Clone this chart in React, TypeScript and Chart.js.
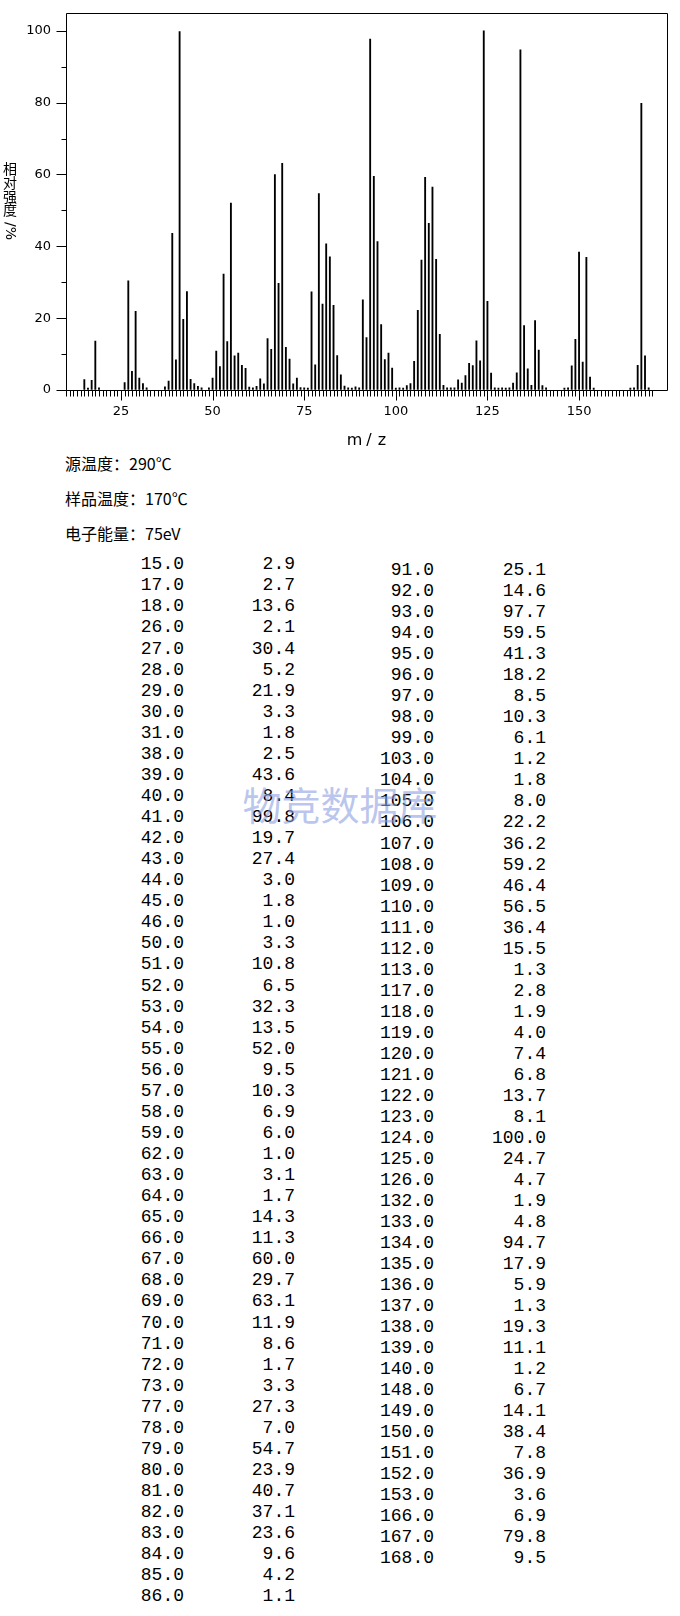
import React, { useEffect, useRef } from 'react';
import { Chart, registerables } from 'chart.js';

Chart.register(...registerables);

// Listed peaks (m/z and relative intensity %)
const leftMz = [15, 17, 18, 26, 27, 28, 29, 30, 31, 38, 39, 40, 41, 42, 43, 44, 45, 46, 50, 51, 52, 53, 54, 55, 56, 57, 58, 59, 62, 63, 64, 65, 66, 67, 68, 69, 70, 71, 72, 73, 77, 78, 79, 80, 81, 82, 83, 84, 85, 86];
const leftIntensity = [2.9, 2.7, 13.6, 2.1, 30.4, 5.2, 21.9, 3.3, 1.8, 2.5, 43.6, 8.4, 99.8, 19.7, 27.4, 3.0, 1.8, 1.0, 3.3, 10.8, 6.5, 32.3, 13.5, 52.0, 9.5, 10.3, 6.9, 6.0, 1.0, 3.1, 1.7, 14.3, 11.3, 60.0, 29.7, 63.1, 11.9, 8.6, 1.7, 3.3, 27.3, 7.0, 54.7, 23.9, 40.7, 37.1, 23.6, 9.6, 4.2, 1.1];
const rightMz = [91, 92, 93, 94, 95, 96, 97, 98, 99, 103, 104, 105, 106, 107, 108, 109, 110, 111, 112, 113, 117, 118, 119, 120, 121, 122, 123, 124, 125, 126, 132, 133, 134, 135, 136, 137, 138, 139, 140, 148, 149, 150, 151, 152, 153, 166, 167, 168];
const rightIntensity = [25.1, 14.6, 97.7, 59.5, 41.3, 18.2, 8.5, 10.3, 6.1, 1.2, 1.8, 8.0, 22.2, 36.2, 59.2, 46.4, 56.5, 36.4, 15.5, 1.3, 2.8, 1.9, 4.0, 7.4, 6.8, 13.7, 8.1, 100.0, 24.7, 4.7, 1.9, 4.8, 94.7, 17.9, 5.9, 1.3, 19.3, 11.1, 1.2, 6.7, 14.1, 38.4, 7.8, 36.9, 3.6, 6.9, 79.8, 9.5];

// Small unlisted peaks (< 1 %)
const smallMz = [16, 19, 32, 37, 47, 49, 60, 61, 74, 75, 76, 87, 88, 89, 90, 100, 101, 102, 114, 115, 116, 127, 128, 129, 130, 131, 141, 146, 147, 154, 164, 165, 169];
const smallIntensity = [0.5, 0.6, 0.6, 0.9, 0.6, 0.6, 0.8, 0.6, 0.7, 0.6, 0.5, 0.6, 0.5, 0.9, 0.6, 0.5, 0.6, 0.5, 0.6, 0.6, 0.6, 0.6, 0.5, 0.6, 0.5, 0.6, 0.6, 0.5, 0.6, 0.5, 0.5, 0.6, 0.6];

const yTickValues = [0, 10, 20, 30, 40, 50, 60, 70, 80, 90, 100];
const yLabelValues = [0, 20, 40, 60, 80, 100];
const xLabelValues = [25, 50, 75, 100, 125, 150];
const xMinorFrom = 10;
const xMinorTo = 170;

const yTitleChars = ['相', '对', '强', '度'];
const yTitleUnit = '/%';
const xTitleChars = ['m', '/', 'z'];

const infoLines = ['源温度：290℃', '样品温度：170℃', '电子能量：75eV'];
const watermark = '物竞数据库';

const fmt = (v: number) => v.toFixed(1);

const framePlugin = {
  id: 'frameTicks',
  afterDraw(chart: any) {
    const { ctx, chartArea } = chart;
    const xs = chart.scales.x;
    const ys = chart.scales.y;
    ctx.save();
    ctx.strokeStyle = '#000';
    ctx.lineWidth = 1;
    const L = Math.round(chartArea.left) + 0.5;
    const R = Math.round(chartArea.right) + 0.5;
    const T = Math.round(chartArea.top) + 0.5;
    const B = Math.round(chartArea.bottom) + 0.5;
    ctx.beginPath();
    ctx.moveTo(L, B);
    ctx.lineTo(L, T);
    ctx.lineTo(R, T);
    ctx.lineTo(R, B);
    ctx.lineTo(L, B);
    ctx.stroke();
    // y ticks
    ctx.beginPath();
    yTickValues.forEach((v) => {
      const y = Math.round(ys.getPixelForValue(v)) + 0.5;
      const len = v % 20 === 0 ? 10 : 5;
      ctx.moveTo(L - len, y);
      ctx.lineTo(L, y);
    });
    // x ticks
    for (let v = xMinorFrom; v <= xMinorTo; v++) {
      const x = Math.round(xs.getPixelForValue(v)) + 0.5;
      const len = v % 25 === 0 ? 10 : 6;
      ctx.moveTo(x, B);
      ctx.lineTo(x, B + len);
    }
    ctx.stroke();
    // y title
    ctx.fillStyle = '#000';
    ctx.font = '14px "Noto Sans CJK SC"';
    ctx.textAlign = 'center';
    ctx.textBaseline = 'middle';
    const yc = [169, 183, 197, 210];
    yTitleChars.forEach((c, i) => ctx.fillText(c, 10, yc[i]));
    ctx.save();
    ctx.translate(10, 231);
    ctx.rotate(Math.PI / 2);
    ctx.font = '14px "DejaVu Sans"';
    ctx.fillText(yTitleUnit, 0, 0);
    ctx.restore();
    // x title
    ctx.font = '16px "DejaVu Sans"';
    ctx.textBaseline = 'alphabetic';
    const xc = [354.5, 369, 382];
    xTitleChars.forEach((c, i) => ctx.fillText(c, xc[i], 445));
    ctx.restore();
  },
};

function SpectrumChart() {
  const ref = useRef<HTMLCanvasElement | null>(null);
  useEffect(() => {
    if (!ref.current) return;
    const mz = [...leftMz, ...rightMz, ...smallMz];
    const inten = [...leftIntensity, ...rightIntensity, ...smallIntensity];
    const points = mz.map((m, i) => ({ x: m, y: inten[i] }));
    const chart = new Chart(ref.current, {
      type: 'bar',
      data: {
        datasets: [
          {
            data: points as any,
            backgroundColor: '#000',
            borderWidth: 0,
            barThickness: 1.2,
          },
        ],
      },
      options: {
        responsive: false,
        animation: false,
        devicePixelRatio: 1,
        layout: { padding: { top: 6, right: 13, left: 0, bottom: 0 } },
        plugins: { legend: { display: false }, tooltip: { enabled: false } },
        scales: {
          x: {
            type: 'linear',
            min: 10,
            max: 174,
            offset: false,
            afterBuildTicks: (s: any) => {
              s.ticks = xLabelValues.map((v) => ({ value: v }));
            },
            afterFit: (s: any) => {
              s.height = 60;
            },
            grid: { display: true, offset: false, drawOnChartArea: false, drawTicks: true, tickLength: 10, color: 'rgba(0,0,0,0)' },
            border: { display: false },
            ticks: {
              font: { family: 'DejaVu Sans', size: 13 },
              color: '#000',
              padding: 4,
              maxRotation: 0,
              autoSkip: false,
            },
          },
          y: {
            min: 0,
            max: 105,
            afterBuildTicks: (s: any) => {
              s.ticks = yLabelValues.map((v) => ({ value: v }));
            },
            afterFit: (s: any) => {
              s.width = 66;
            },
            grid: { display: true, drawOnChartArea: false, drawTicks: true, tickLength: 10, color: 'rgba(0,0,0,0)' },
            border: { display: false },
            ticks: {
              font: { family: 'DejaVu Sans', size: 13 },
              color: '#000',
              padding: 5,
              autoSkip: false,
            },
          },
        },
      },
      plugins: [framePlugin],
    });
    return () => chart.destroy();
  }, []);
  return <canvas ref={ref} width={680} height={450} style={{ position: 'absolute', left: 0, top: 0, width: 680, height: 450 }} />;
}

export default function App() {
  useEffect(() => {
    document.body.style.margin = '0';
  }, []);
  const mono: React.CSSProperties = {
    position: 'absolute',
    fontFamily: '"Liberation Mono", monospace',
    fontSize: 18,
    textAlign: 'right',
    color: '#000',
    whiteSpace: 'pre',
  };
  const col = (vals: string[], right: number, top: number, lh: number) => (
    <div style={{ ...mono, left: right - 80, width: 80, top, lineHeight: `${lh}px` }}>
      {vals.map((v, i) => (
        <div key={i}>{v}</div>
      ))}
    </div>
  );
  return (
    <div style={{ position: 'relative', width: 680, height: 1616, background: '#fff', overflow: 'hidden' }}>
      <SpectrumChart />
      {infoLines.map((t, i) => (
        <div
          key={i}
          style={{
            position: 'absolute',
            left: 65,
            top: 453 + i * 35,
            lineHeight: '20px',
            fontSize: 16,
            fontFamily: '"Noto Sans CJK SC", sans-serif',
            color: '#000',
            whiteSpace: 'pre',
          }}
        >
          {t}
        </div>
      ))}
      {col(leftMz.map(fmt), 184, 554.3, 21.06)}
      {col(leftIntensity.map(fmt), 295, 554.3, 21.06)}
      {col(rightMz.map(fmt), 434, 560.3, 21.02)}
      {col(rightIntensity.map(fmt), 546, 560.3, 21.02)}
      <div
        style={{
          position: 'absolute',
          left: 0,
          width: 680,
          top: 784,
          textAlign: 'center',
          fontSize: 39,
          lineHeight: '39px',
          fontFamily: '"Noto Sans CJK SC", sans-serif',
          color: 'rgba(140,160,225,0.6)',
          pointerEvents: 'none',
        }}
      >
        {watermark}
      </div>
    </div>
  );
}
